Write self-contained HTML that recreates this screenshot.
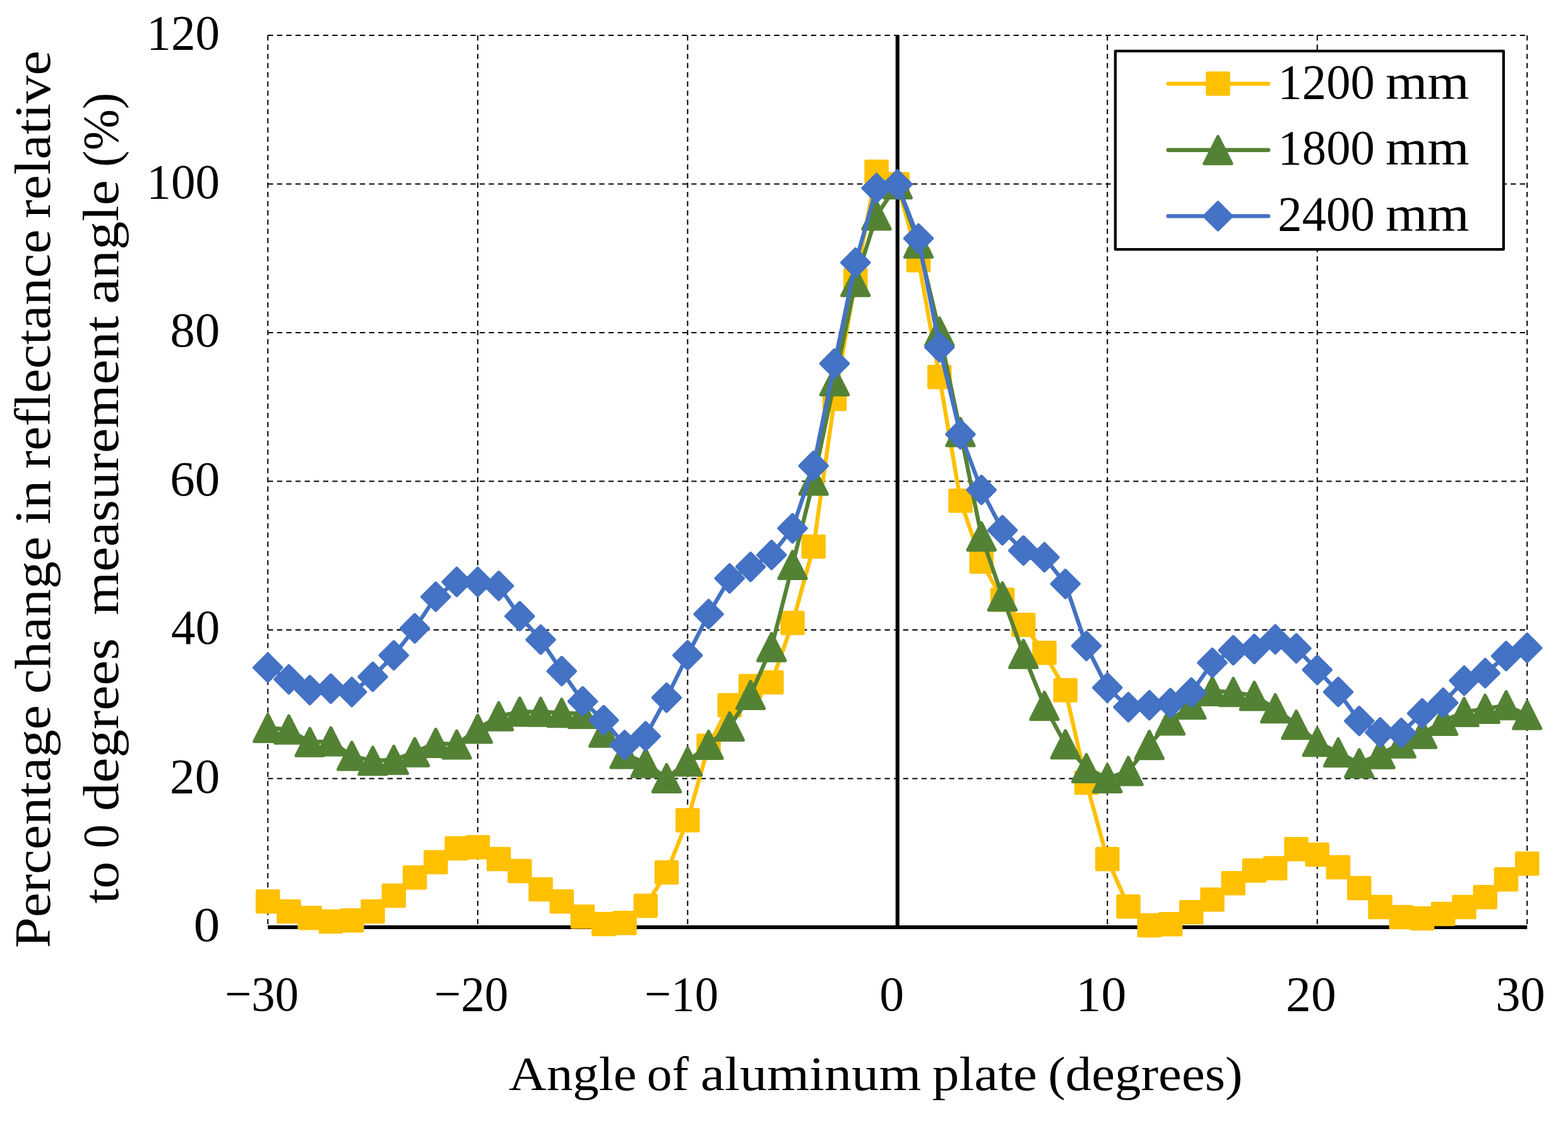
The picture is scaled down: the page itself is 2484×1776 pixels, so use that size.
<!DOCTYPE html>
<html><head><meta charset="utf-8"><title>Reflectance vs angle</title>
<style>html,body{margin:0;padding:0;background:#fff;overflow:hidden;}svg{display:block;}</style></head><body>
<svg width="2484" height="1776" viewBox="0 0 2484 1776">
<rect width="2484" height="1776" fill="#fff"/>
<path d="M424.33 1233.5H2419.27M424.33 998H2419.27M424.33 762.5H2419.27M424.33 527H2419.27M424.33 291.5H2419.27M424.33 56H2419.27M424.33 56V1469M756.82 56V1469M1089.31 56V1469M1754.29 56V1469M2086.78 56V1469M2419.27 56V1469" stroke="#000" stroke-width="2" stroke-dasharray="8.3 6.284" fill="none"/>
<path d="M1421.8 56V1472.05" stroke="#000" stroke-width="6.1" fill="none"/>
<path d="M424.33 1469H2419.27" stroke="#000" stroke-width="6.1" fill="none"/>
<polyline points="424.33,1428.3 457.58,1444 490.83,1454.2 524.08,1460 557.33,1458.3 590.57,1444 623.82,1419.1 657.07,1390.3 690.32,1366.1 723.57,1344.1 756.82,1342.3 790.07,1361 823.32,1380.1 856.57,1408.9 889.82,1428.3 923.06,1452.2 956.31,1464.1 989.56,1462.2 1022.81,1435 1056.06,1382.3 1089.31,1299.4 1122.56,1181.6 1155.81,1117.2 1189.06,1086.9 1222.31,1081.1 1255.55,987 1288.8,866.1 1322.05,632.1 1355.3,443.6 1388.55,271.9 1421.8,291.7 1455.05,412.2 1488.3,597.2 1521.55,793.3 1554.8,889.8 1588.05,950.2 1621.29,990 1654.54,1034.3 1687.79,1093.4 1721.04,1240.1 1754.29,1361.1 1787.54,1436.3 1820.79,1466 1854.04,1464.2 1887.29,1445.3 1920.53,1425.2 1953.78,1399.3 1987.03,1379.2 2020.28,1375.5 2053.53,1345.2 2086.78,1354.1 2120.03,1374.1 2153.28,1407.1 2186.53,1437.1 2219.78,1453.1 2253.03,1455.1 2286.27,1448.1 2319.52,1437.1 2352.77,1421.2 2386.02,1393.2 2419.27,1368.2" fill="none" stroke="#FFC000" stroke-width="6.4" stroke-linejoin="round" stroke-linecap="round"/><path d="M407.58 1411.55h33.5v33.5h-33.5zM440.83 1427.25h33.5v33.5h-33.5zM474.08 1437.45h33.5v33.5h-33.5zM507.33 1443.25h33.5v33.5h-33.5zM540.58 1441.55h33.5v33.5h-33.5zM573.82 1427.25h33.5v33.5h-33.5zM607.07 1402.35h33.5v33.5h-33.5zM640.32 1373.55h33.5v33.5h-33.5zM673.57 1349.35h33.5v33.5h-33.5zM706.82 1327.35h33.5v33.5h-33.5zM740.07 1325.55h33.5v33.5h-33.5zM773.32 1344.25h33.5v33.5h-33.5zM806.57 1363.35h33.5v33.5h-33.5zM839.82 1392.15h33.5v33.5h-33.5zM873.07 1411.55h33.5v33.5h-33.5zM906.31 1435.45h33.5v33.5h-33.5zM939.56 1447.35h33.5v33.5h-33.5zM972.81 1445.45h33.5v33.5h-33.5zM1006.06 1418.25h33.5v33.5h-33.5zM1039.31 1365.55h33.5v33.5h-33.5zM1072.56 1282.65h33.5v33.5h-33.5zM1105.81 1164.85h33.5v33.5h-33.5zM1139.06 1100.45h33.5v33.5h-33.5zM1172.31 1070.15h33.5v33.5h-33.5zM1205.56 1064.35h33.5v33.5h-33.5zM1238.8 970.25h33.5v33.5h-33.5zM1272.05 849.35h33.5v33.5h-33.5zM1305.3 615.35h33.5v33.5h-33.5zM1338.55 426.85h33.5v33.5h-33.5zM1371.8 255.15h33.5v33.5h-33.5zM1405.05 274.95h33.5v33.5h-33.5zM1438.3 395.45h33.5v33.5h-33.5zM1471.55 580.45h33.5v33.5h-33.5zM1504.8 776.55h33.5v33.5h-33.5zM1538.05 873.05h33.5v33.5h-33.5zM1571.3 933.45h33.5v33.5h-33.5zM1604.54 973.25h33.5v33.5h-33.5zM1637.79 1017.55h33.5v33.5h-33.5zM1671.04 1076.65h33.5v33.5h-33.5zM1704.29 1223.35h33.5v33.5h-33.5zM1737.54 1344.35h33.5v33.5h-33.5zM1770.79 1419.55h33.5v33.5h-33.5zM1804.04 1449.25h33.5v33.5h-33.5zM1837.29 1447.45h33.5v33.5h-33.5zM1870.54 1428.55h33.5v33.5h-33.5zM1903.78 1408.45h33.5v33.5h-33.5zM1937.03 1382.55h33.5v33.5h-33.5zM1970.28 1362.45h33.5v33.5h-33.5zM2003.53 1358.75h33.5v33.5h-33.5zM2036.78 1328.45h33.5v33.5h-33.5zM2070.03 1337.35h33.5v33.5h-33.5zM2103.28 1357.35h33.5v33.5h-33.5zM2136.53 1390.35h33.5v33.5h-33.5zM2169.78 1420.35h33.5v33.5h-33.5zM2203.03 1436.35h33.5v33.5h-33.5zM2236.28 1438.35h33.5v33.5h-33.5zM2269.52 1431.35h33.5v33.5h-33.5zM2302.77 1420.35h33.5v33.5h-33.5zM2336.02 1404.45h33.5v33.5h-33.5zM2369.27 1376.45h33.5v33.5h-33.5zM2402.52 1351.45h33.5v33.5h-33.5z" fill="#FFC000" stroke="#FFC000" stroke-width="5" stroke-linejoin="round"/>
<polyline points="424.33,1153.3 457.58,1155.7 490.83,1175.7 524.08,1174.5 557.33,1197.5 590.57,1205.3 623.82,1203.8 657.07,1191.7 690.32,1176.9 723.57,1179.6 756.82,1154.6 790.07,1134.8 823.32,1127.5 856.57,1127.8 889.82,1129.3 923.06,1131 956.31,1160.7 989.56,1194.6 1022.81,1208.7 1056.06,1232.9 1089.31,1206.6 1122.56,1180.1 1155.81,1150.9 1189.06,1101.1 1222.31,1025.2 1255.55,895.1 1288.8,761.4 1322.05,604 1355.3,446.8 1388.55,341.4 1421.8,291.9 1455.05,385.8 1488.3,525.3 1521.55,684.6 1554.8,849.9 1588.05,944.9 1621.29,1036 1654.54,1118.2 1687.79,1179.2 1721.04,1217.1 1754.29,1233 1787.54,1221.4 1820.79,1180.2 1854.04,1141.6 1887.29,1116.2 1920.53,1095 1953.78,1096.3 1987.03,1102.4 2020.28,1122.2 2053.53,1148.2 2086.78,1175.3 2120.03,1192.1 2153.28,1209.3 2186.53,1194.7 2219.78,1177.8 2253.03,1162.8 2286.27,1142.1 2319.52,1128.1 2352.77,1122.9 2386.02,1117.3 2419.27,1132.8" fill="none" stroke="#548235" stroke-width="6.4" stroke-linejoin="round" stroke-linecap="round"/><path d="M424.33 1131.8L446.03 1174.8L402.63 1174.8zM457.58 1134.2L479.28 1177.2L435.88 1177.2zM490.83 1154.2L512.53 1197.2L469.13 1197.2zM524.08 1153L545.78 1196L502.38 1196zM557.33 1176L579.03 1219L535.63 1219zM590.57 1183.8L612.27 1226.8L568.87 1226.8zM623.82 1182.3L645.52 1225.3L602.12 1225.3zM657.07 1170.2L678.77 1213.2L635.37 1213.2zM690.32 1155.4L712.02 1198.4L668.62 1198.4zM723.57 1158.1L745.27 1201.1L701.87 1201.1zM756.82 1133.1L778.52 1176.1L735.12 1176.1zM790.07 1113.3L811.77 1156.3L768.37 1156.3zM823.32 1106L845.02 1149L801.62 1149zM856.57 1106.3L878.27 1149.3L834.87 1149.3zM889.82 1107.8L911.52 1150.8L868.12 1150.8zM923.06 1109.5L944.76 1152.5L901.36 1152.5zM956.31 1139.2L978.01 1182.2L934.61 1182.2zM989.56 1173.1L1011.26 1216.1L967.86 1216.1zM1022.81 1187.2L1044.51 1230.2L1001.11 1230.2zM1056.06 1211.4L1077.76 1254.4L1034.36 1254.4zM1089.31 1185.1L1111.01 1228.1L1067.61 1228.1zM1122.56 1158.6L1144.26 1201.6L1100.86 1201.6zM1155.81 1129.4L1177.51 1172.4L1134.11 1172.4zM1189.06 1079.6L1210.76 1122.6L1167.36 1122.6zM1222.31 1003.7L1244.01 1046.7L1200.61 1046.7zM1255.55 873.6L1277.25 916.6L1233.85 916.6zM1288.8 739.9L1310.5 782.9L1267.1 782.9zM1322.05 582.5L1343.75 625.5L1300.35 625.5zM1355.3 425.3L1377 468.3L1333.6 468.3zM1388.55 319.9L1410.25 362.9L1366.85 362.9zM1421.8 270.4L1443.5 313.4L1400.1 313.4zM1455.05 364.3L1476.75 407.3L1433.35 407.3zM1488.3 503.8L1510 546.8L1466.6 546.8zM1521.55 663.1L1543.25 706.1L1499.85 706.1zM1554.8 828.4L1576.5 871.4L1533.1 871.4zM1588.05 923.4L1609.75 966.4L1566.35 966.4zM1621.29 1014.5L1642.99 1057.5L1599.59 1057.5zM1654.54 1096.7L1676.24 1139.7L1632.84 1139.7zM1687.79 1157.7L1709.49 1200.7L1666.09 1200.7zM1721.04 1195.6L1742.74 1238.6L1699.34 1238.6zM1754.29 1211.5L1775.99 1254.5L1732.59 1254.5zM1787.54 1199.9L1809.24 1242.9L1765.84 1242.9zM1820.79 1158.7L1842.49 1201.7L1799.09 1201.7zM1854.04 1120.1L1875.74 1163.1L1832.34 1163.1zM1887.29 1094.7L1908.99 1137.7L1865.59 1137.7zM1920.53 1073.5L1942.23 1116.5L1898.83 1116.5zM1953.78 1074.8L1975.48 1117.8L1932.08 1117.8zM1987.03 1080.9L2008.73 1123.9L1965.33 1123.9zM2020.28 1100.7L2041.98 1143.7L1998.58 1143.7zM2053.53 1126.7L2075.23 1169.7L2031.83 1169.7zM2086.78 1153.8L2108.48 1196.8L2065.08 1196.8zM2120.03 1170.6L2141.73 1213.6L2098.33 1213.6zM2153.28 1187.8L2174.98 1230.8L2131.58 1230.8zM2186.53 1173.2L2208.23 1216.2L2164.83 1216.2zM2219.78 1156.3L2241.48 1199.3L2198.08 1199.3zM2253.03 1141.3L2274.72 1184.3L2231.33 1184.3zM2286.27 1120.6L2307.97 1163.6L2264.57 1163.6zM2319.52 1106.6L2341.22 1149.6L2297.82 1149.6zM2352.77 1101.4L2374.47 1144.4L2331.07 1144.4zM2386.02 1095.8L2407.72 1138.8L2364.32 1138.8zM2419.27 1111.3L2440.97 1154.3L2397.57 1154.3z" fill="#548235" stroke="#548235" stroke-width="5" stroke-linejoin="round"/>
<polyline points="424.33,1057.7 457.58,1076.3 490.83,1093.3 524.08,1091 557.33,1096.3 590.57,1072.2 623.82,1038.2 657.07,995.5 690.32,945.4 723.57,921.9 756.82,921.9 790.07,928.2 823.32,976.2 856.57,1013.4 889.82,1063.2 923.06,1111.2 956.31,1141 989.56,1180.3 1022.81,1166.4 1056.06,1105.3 1089.31,1038.2 1122.56,972.9 1155.81,916.3 1189.06,898.1 1222.31,879.2 1255.55,837 1288.8,738 1322.05,576 1355.3,416.1 1388.55,298.1 1421.8,292.1 1455.05,377.8 1488.3,550.1 1521.55,688 1554.8,776.2 1588.05,840 1621.29,872.2 1654.54,882.9 1687.79,925.1 1721.04,1023.3 1754.29,1089.5 1787.54,1120.3 1820.79,1117.3 1854.04,1113.9 1887.29,1097.2 1920.53,1050.1 1953.78,1030.2 1987.03,1028.1 2020.28,1012.9 2053.53,1027.2 2086.78,1061.3 2120.03,1096.2 2153.28,1142.2 2186.53,1160.4 2219.78,1161.2 2253.03,1130.2 2286.27,1113.4 2319.52,1078.3 2352.77,1066.4 2386.02,1039.3 2419.27,1026.4" fill="none" stroke="#4472C4" stroke-width="6.4" stroke-linejoin="round" stroke-linecap="round"/><path d="M424.33 1036.05L445.98 1057.7L424.33 1079.35L402.68 1057.7zM457.58 1054.65L479.23 1076.3L457.58 1097.95L435.93 1076.3zM490.83 1071.65L512.48 1093.3L490.83 1114.95L469.18 1093.3zM524.08 1069.35L545.73 1091L524.08 1112.65L502.43 1091zM557.33 1074.65L578.98 1096.3L557.33 1117.95L535.68 1096.3zM590.57 1050.55L612.22 1072.2L590.57 1093.85L568.92 1072.2zM623.82 1016.55L645.47 1038.2L623.82 1059.85L602.17 1038.2zM657.07 973.85L678.72 995.5L657.07 1017.15L635.42 995.5zM690.32 923.75L711.97 945.4L690.32 967.05L668.67 945.4zM723.57 900.25L745.22 921.9L723.57 943.55L701.92 921.9zM756.82 900.25L778.47 921.9L756.82 943.55L735.17 921.9zM790.07 906.55L811.72 928.2L790.07 949.85L768.42 928.2zM823.32 954.55L844.97 976.2L823.32 997.85L801.67 976.2zM856.57 991.75L878.22 1013.4L856.57 1035.05L834.92 1013.4zM889.82 1041.55L911.47 1063.2L889.82 1084.85L868.17 1063.2zM923.06 1089.55L944.71 1111.2L923.06 1132.85L901.41 1111.2zM956.31 1119.35L977.96 1141L956.31 1162.65L934.66 1141zM989.56 1158.65L1011.21 1180.3L989.56 1201.95L967.91 1180.3zM1022.81 1144.75L1044.46 1166.4L1022.81 1188.05L1001.16 1166.4zM1056.06 1083.65L1077.71 1105.3L1056.06 1126.95L1034.41 1105.3zM1089.31 1016.55L1110.96 1038.2L1089.31 1059.85L1067.66 1038.2zM1122.56 951.25L1144.21 972.9L1122.56 994.55L1100.91 972.9zM1155.81 894.65L1177.46 916.3L1155.81 937.95L1134.16 916.3zM1189.06 876.45L1210.71 898.1L1189.06 919.75L1167.41 898.1zM1222.31 857.55L1243.96 879.2L1222.31 900.85L1200.66 879.2zM1255.55 815.35L1277.2 837L1255.55 858.65L1233.9 837zM1288.8 716.35L1310.45 738L1288.8 759.65L1267.15 738zM1322.05 554.35L1343.7 576L1322.05 597.65L1300.4 576zM1355.3 394.45L1376.95 416.1L1355.3 437.75L1333.65 416.1zM1388.55 276.45L1410.2 298.1L1388.55 319.75L1366.9 298.1zM1421.8 270.45L1443.45 292.1L1421.8 313.75L1400.15 292.1zM1455.05 356.15L1476.7 377.8L1455.05 399.45L1433.4 377.8zM1488.3 528.45L1509.95 550.1L1488.3 571.75L1466.65 550.1zM1521.55 666.35L1543.2 688L1521.55 709.65L1499.9 688zM1554.8 754.55L1576.45 776.2L1554.8 797.85L1533.15 776.2zM1588.05 818.35L1609.7 840L1588.05 861.65L1566.39 840zM1621.29 850.55L1642.94 872.2L1621.29 893.85L1599.64 872.2zM1654.54 861.25L1676.19 882.9L1654.54 904.55L1632.89 882.9zM1687.79 903.45L1709.44 925.1L1687.79 946.75L1666.14 925.1zM1721.04 1001.65L1742.69 1023.3L1721.04 1044.95L1699.39 1023.3zM1754.29 1067.85L1775.94 1089.5L1754.29 1111.15L1732.64 1089.5zM1787.54 1098.65L1809.19 1120.3L1787.54 1141.95L1765.89 1120.3zM1820.79 1095.65L1842.44 1117.3L1820.79 1138.95L1799.14 1117.3zM1854.04 1092.25L1875.69 1113.9L1854.04 1135.55L1832.39 1113.9zM1887.29 1075.55L1908.94 1097.2L1887.29 1118.85L1865.64 1097.2zM1920.53 1028.45L1942.18 1050.1L1920.53 1071.75L1898.88 1050.1zM1953.78 1008.55L1975.43 1030.2L1953.78 1051.85L1932.13 1030.2zM1987.03 1006.45L2008.68 1028.1L1987.03 1049.75L1965.38 1028.1zM2020.28 991.25L2041.93 1012.9L2020.28 1034.55L1998.63 1012.9zM2053.53 1005.55L2075.18 1027.2L2053.53 1048.85L2031.88 1027.2zM2086.78 1039.65L2108.43 1061.3L2086.78 1082.95L2065.13 1061.3zM2120.03 1074.55L2141.68 1096.2L2120.03 1117.85L2098.38 1096.2zM2153.28 1120.55L2174.93 1142.2L2153.28 1163.85L2131.63 1142.2zM2186.53 1138.75L2208.18 1160.4L2186.53 1182.05L2164.88 1160.4zM2219.78 1139.55L2241.43 1161.2L2219.78 1182.85L2198.13 1161.2zM2253.03 1108.55L2274.68 1130.2L2253.03 1151.85L2231.38 1130.2zM2286.27 1091.75L2307.92 1113.4L2286.27 1135.05L2264.62 1113.4zM2319.52 1056.65L2341.17 1078.3L2319.52 1099.95L2297.87 1078.3zM2352.77 1044.75L2374.42 1066.4L2352.77 1088.05L2331.12 1066.4zM2386.02 1017.65L2407.67 1039.3L2386.02 1060.95L2364.37 1039.3zM2419.27 1004.75L2440.92 1026.4L2419.27 1048.05L2397.62 1026.4z" fill="#4472C4" stroke="#4472C4" stroke-width="5" stroke-linejoin="round"/>
<text x="306.84" y="1491" font-family="'Liberation Serif', 'DejaVu Serif', serif" font-size="79" textLength="41.63" lengthAdjust="spacingAndGlyphs">0</text>
<text x="269.12" y="1255.5" font-family="'Liberation Serif', 'DejaVu Serif', serif" font-size="79" textLength="79.19" lengthAdjust="spacingAndGlyphs">20</text>
<text x="271.06" y="1020" font-family="'Liberation Serif', 'DejaVu Serif', serif" font-size="79" textLength="77.18" lengthAdjust="spacingAndGlyphs">40</text>
<text x="269.2" y="784.5" font-family="'Liberation Serif', 'DejaVu Serif', serif" font-size="79" textLength="79.11" lengthAdjust="spacingAndGlyphs">60</text>
<text x="269.61" y="549" font-family="'Liberation Serif', 'DejaVu Serif', serif" font-size="79" textLength="78.68" lengthAdjust="spacingAndGlyphs">80</text>
<text x="232.3" y="313.5" font-family="'Liberation Serif', 'DejaVu Serif', serif" font-size="79" textLength="115.94" lengthAdjust="spacingAndGlyphs">100</text>
<text x="232.3" y="78" font-family="'Liberation Serif', 'DejaVu Serif', serif" font-size="79" textLength="115.94" lengthAdjust="spacingAndGlyphs">120</text>
<text x="356.16" y="1601" font-family="'Liberation Serif', 'DejaVu Serif', serif" font-size="79" textLength="116.87" lengthAdjust="spacingAndGlyphs">−30</text>
<text x="687.84" y="1601" font-family="'Liberation Serif', 'DejaVu Serif', serif" font-size="79" textLength="117.51" lengthAdjust="spacingAndGlyphs">−20</text>
<text x="1021.06" y="1601" font-family="'Liberation Serif', 'DejaVu Serif', serif" font-size="79" textLength="117.09" lengthAdjust="spacingAndGlyphs">−10</text>
<text x="1393.14" y="1601" font-family="'Liberation Serif', 'DejaVu Serif', serif" font-size="79" textLength="38.92" lengthAdjust="spacingAndGlyphs">0</text>
<text x="1704.58" y="1601" font-family="'Liberation Serif', 'DejaVu Serif', serif" font-size="79" textLength="79.75" lengthAdjust="spacingAndGlyphs">10</text>
<text x="2037.1" y="1601" font-family="'Liberation Serif', 'DejaVu Serif', serif" font-size="79" textLength="79.63" lengthAdjust="spacingAndGlyphs">20</text>
<text x="2369.22" y="1601" font-family="'Liberation Serif', 'DejaVu Serif', serif" font-size="79" textLength="78.67" lengthAdjust="spacingAndGlyphs">30</text>
<text x="806.07" y="1727.3" font-family="'Liberation Serif', 'DejaVu Serif', serif" font-size="77" textLength="202.52" lengthAdjust="spacingAndGlyphs">Angle</text>
<text x="1024.67" y="1727.3" font-family="'Liberation Serif', 'DejaVu Serif', serif" font-size="77" textLength="66.33" lengthAdjust="spacingAndGlyphs">of</text>
<text x="1109.68" y="1727.3" font-family="'Liberation Serif', 'DejaVu Serif', serif" font-size="77" textLength="349.61" lengthAdjust="spacingAndGlyphs">aluminum</text>
<text x="1476.83" y="1727.3" font-family="'Liberation Serif', 'DejaVu Serif', serif" font-size="77" textLength="166.21" lengthAdjust="spacingAndGlyphs">plate</text>
<text x="1660.25" y="1727.3" font-family="'Liberation Serif', 'DejaVu Serif', serif" font-size="77" textLength="308.27" lengthAdjust="spacingAndGlyphs">(degrees)</text>
<g transform="rotate(-90)">
<text x="-1502.05" y="79.3" font-family="'Liberation Serif', 'DejaVu Serif', serif" font-size="80" textLength="385.14" lengthAdjust="spacingAndGlyphs">Percentage</text>
<text x="-1099.35" y="79.3" font-family="'Liberation Serif', 'DejaVu Serif', serif" font-size="80" textLength="249.39" lengthAdjust="spacingAndGlyphs">change</text>
<text x="-830.9" y="79.3" font-family="'Liberation Serif', 'DejaVu Serif', serif" font-size="80" textLength="70.44" lengthAdjust="spacingAndGlyphs">in</text>
<text x="-742.73" y="79.3" font-family="'Liberation Serif', 'DejaVu Serif', serif" font-size="80" textLength="379.13" lengthAdjust="spacingAndGlyphs">reflectance</text>
<text x="-345.97" y="79.3" font-family="'Liberation Serif', 'DejaVu Serif', serif" font-size="80" textLength="265.88" lengthAdjust="spacingAndGlyphs">relative</text>
<text x="-1431.56" y="187.1" font-family="'Liberation Serif', 'DejaVu Serif', serif" font-size="80" textLength="66.59" lengthAdjust="spacingAndGlyphs">to</text>
<text x="-1343.87" y="187.1" font-family="'Liberation Serif', 'DejaVu Serif', serif" font-size="80" textLength="37.74" lengthAdjust="spacingAndGlyphs">0</text>
<text x="-1285.03" y="187.1" font-family="'Liberation Serif', 'DejaVu Serif', serif" font-size="80" textLength="273.83" lengthAdjust="spacingAndGlyphs">degrees</text>
<text x="-974.87" y="187.1" font-family="'Liberation Serif', 'DejaVu Serif', serif" font-size="80" textLength="474.41" lengthAdjust="spacingAndGlyphs">measurement</text>
<text x="-481.88" y="187.1" font-family="'Liberation Serif', 'DejaVu Serif', serif" font-size="80" textLength="196.82" lengthAdjust="spacingAndGlyphs">angle</text>
<text x="-264.45" y="187.1" font-family="'Liberation Serif', 'DejaVu Serif', serif" font-size="80" textLength="117.4" lengthAdjust="spacingAndGlyphs">(%)</text>
</g>
<rect x="1766.9" y="80.9" width="615.0" height="314.2" fill="#fff" stroke="#000" stroke-width="4.3" stroke-linejoin="round"/>
<path d="M1850.7 132.6H2009.3" stroke="#FFC000" stroke-width="6.4" stroke-linecap="round"/>
<path d="M1912.75 115.85h33.5v33.5h-33.5z" fill="#FFC000" stroke="#FFC000" stroke-width="5" stroke-linejoin="round"/>
<text x="2024.56" y="155.9" font-family="'Liberation Serif', 'DejaVu Serif', serif" font-size="79" textLength="153.26" lengthAdjust="spacingAndGlyphs">1200</text>
<text x="2195.01" y="155.9" font-family="'Liberation Serif', 'DejaVu Serif', serif" font-size="79" textLength="132.63" lengthAdjust="spacingAndGlyphs">mm</text>
<path d="M1850.7 237.8H2009.3" stroke="#548235" stroke-width="6.4" stroke-linecap="round"/>
<path d="M1929.5 216.3L1951.2 259.3L1907.8 259.3z" fill="#548235" stroke="#548235" stroke-width="5" stroke-linejoin="round"/>
<text x="2024.56" y="260.1" font-family="'Liberation Serif', 'DejaVu Serif', serif" font-size="79" textLength="153.26" lengthAdjust="spacingAndGlyphs">1800</text>
<text x="2195.01" y="260.1" font-family="'Liberation Serif', 'DejaVu Serif', serif" font-size="79" textLength="132.63" lengthAdjust="spacingAndGlyphs">mm</text>
<path d="M1850.7 342.4H2009.3" stroke="#4472C4" stroke-width="6.4" stroke-linecap="round"/>
<path d="M1929.5 320.75L1951.15 342.4L1929.5 364.05L1907.85 342.4z" fill="#4472C4" stroke="#4472C4" stroke-width="5" stroke-linejoin="round"/>
<text x="2024.32" y="364.7" font-family="'Liberation Serif', 'DejaVu Serif', serif" font-size="79" textLength="153.49" lengthAdjust="spacingAndGlyphs">2400</text>
<text x="2195.01" y="364.7" font-family="'Liberation Serif', 'DejaVu Serif', serif" font-size="79" textLength="132.63" lengthAdjust="spacingAndGlyphs">mm</text>
</svg></body></html>
